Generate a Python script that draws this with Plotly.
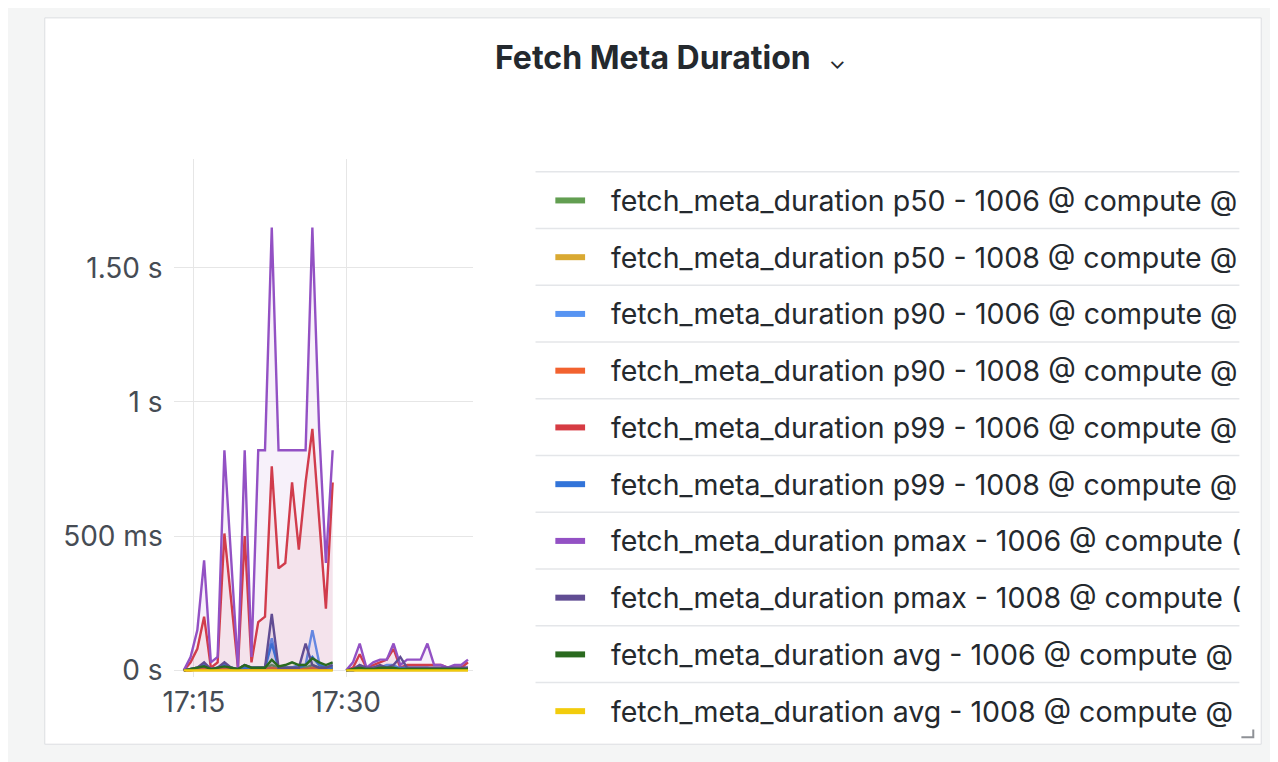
import plotly.graph_objects as go
import pandas as pd

W, H = 1278, 762
OFFX, OFFY = 9, 2  # observed page placement offset

times_a = pd.date_range("2024-01-01 17:14:00", periods=23, freq="40s")
times_b = pd.date_range("2024-01-01 17:30:00", periods=19, freq="40s")

series_names = [
    "fetch_meta_duration p50 - 1006 @ compute @",
    "fetch_meta_duration p50 - 1008 @ compute @",
    "fetch_meta_duration p90 - 1006 @ compute @",
    "fetch_meta_duration p90 - 1008 @ compute @",
    "fetch_meta_duration p99 - 1006 @ compute @",
    "fetch_meta_duration p99 - 1008 @ compute @",
    "fetch_meta_duration pmax - 1006 @ compute (",
    "fetch_meta_duration pmax - 1008 @ compute (",
    "fetch_meta_duration avg - 1006 @ compute @",
    "fetch_meta_duration avg - 1008 @ compute @",
]
colors = ["#629e51", "#d9a932", "#5794f2", "#f2622f", "#d63b43",
          "#3274d9", "#9351c4", "#614d93", "#2a6a1f", "#f2cc0c"]

p50_1006_a = [0,0,0.005,0.01,0.005,0.005,0.01,0.01,0.005,0.01,0.005,0.01,0.01,0.02,0.01,0.01,0.01,0.01,0.01,0.02,0.01,0.01,0.01]
p50_1006_b = [0,0,0.01,0.005,0.005,0.01,0.005,0.01,0.005,0.005,0.005,0.005,0.005,0.005,0.005,0.005,0.005,0.005,0.005]
p50_1008_a = [0]*23
p50_1008_b = [0]*19
p90_1006_a = [0,0.005,0.01,0.02,0.005,0.01,0.02,0.01,0.005,0.02,0.01,0.01,0.01,0.12,0.01,0.01,0.01,0.02,0.02,0.15,0.03,0.01,0.02]
p90_1006_b = [0,0,0.02,0.005,0.01,0.01,0.02,0.02,0.005,0.01,0.01,0.01,0.01,0.005,0.005,0.005,0.01,0.01,0.01]
p90_1008_a = [0,0,0.005,0.005,0.005,0.005,0.005,0.005,0.005,0.005,0.005,0.005,0.005,0.01,0.005,0.005,0.005,0.005,0.005,0.01,0.005,0.005,0.005]
p90_1008_b = [0,0,0.005,0.005,0.005,0.005,0.005,0.005,0.005,0.005,0.005,0.005,0.005,0.005,0.005,0.005,0.005,0.005,0.005]
p99_1006_a = [0,0.03,0.08,0.2,0.01,0.03,0.51,0.25,0.01,0.5,0.03,0.18,0.2,0.76,0.38,0.4,0.7,0.45,0.7,0.9,0.55,0.23,0.7]
p99_1006_b = [0,0.01,0.06,0.01,0.02,0.03,0.04,0.08,0.01,0.02,0.02,0.02,0.02,0.02,0.02,0.01,0.01,0.01,0.03]
p99_1008_a = [0,0.005,0.01,0.02,0.005,0.01,0.02,0.01,0.005,0.01,0.01,0.01,0.01,0.1,0.01,0.01,0.01,0.01,0.02,0.05,0.02,0.01,0.01]
p99_1008_b = [0,0,0.01,0.005,0.01,0.01,0.01,0.01,0.01,0.01,0.005,0.005,0.005,0.005,0.005,0.005,0.005,0.005,0.005]
pmax_1006_a = [0,0.05,0.15,0.41,0.03,0.05,0.82,0.4,0.01,0.82,0.05,0.82,0.82,1.65,0.82,0.82,0.82,0.82,0.82,1.65,0.9,0.4,0.82]
pmax_1006_b = [0,0.03,0.1,0.01,0.03,0.04,0.04,0.1,0.02,0.04,0.04,0.04,0.1,0.02,0.02,0.01,0.02,0.02,0.04]
pmax_1008_a = [0,0.005,0.01,0.03,0.005,0.01,0.03,0.01,0.005,0.02,0.01,0.01,0.01,0.21,0.01,0.01,0.01,0.01,0.1,0.02,0.01,0.01,0.02]
pmax_1008_b = [0,0.005,0.02,0.01,0.01,0.02,0.01,0.02,0.05,0.01,0.01,0.01,0.01,0.01,0.01,0.01,0.01,0.01,0.01]
avg_1006_a = [0,0.005,0.01,0.015,0.005,0.01,0.015,0.01,0.005,0.02,0.01,0.01,0.01,0.04,0.015,0.02,0.03,0.02,0.02,0.045,0.03,0.02,0.03]
avg_1006_b = [0,0.005,0.01,0.005,0.005,0.01,0.01,0.01,0.005,0.005,0.005,0.005,0.005,0.005,0.005,0.005,0.005,0.005,0.005]
avg_1008_a = [0]*23
avg_1008_b = [0]*19

values_a = [p50_1006_a, p50_1008_a, p90_1006_a, p90_1008_a, p99_1006_a,
            p99_1008_a, pmax_1006_a, pmax_1008_a, avg_1006_a, avg_1008_a]
values_b = [p50_1006_b, p50_1008_b, p90_1006_b, p90_1008_b, p99_1006_b,
            p99_1008_b, pmax_1006_b, pmax_1008_b, avg_1006_b, avg_1008_b]

ytick_vals = [0, 0.5, 1, 1.5]
ytick_text = ["0 s", "500 ms", "1 s", "1.50 s"]
xtick_vals = ["2024-01-01 17:15:00", "2024-01-01 17:30:00"]
xtick_text = ["17:15", "17:30"]


def rgba(hexc, a):
    h = hexc.lstrip("#")
    return "rgba(%d,%d,%d,%.2f)" % (int(h[0:2], 16), int(h[2:4], 16), int(h[4:6], 16), a)


def px(x):
    return (x - OFFX) / W


def py(y):
    return 1 - (y - OFFY) / H


fig = go.Figure()
for i, (name, c) in enumerate(zip(series_names, colors)):
    for xs, ys in ((times_a, values_a[i]), (times_b, values_b[i])):
        fig.add_trace(go.Scatter(x=list(xs), y=ys, mode="lines", name=name,
                                 line=dict(color=c, width=2.4),
                                 fill="tozeroy", fillcolor=rgba(c, 0.08),
                                 showlegend=False))

TF = "Inter, Roboto, sans-serif"
fig.update_layout(
    width=W, height=H, autosize=False,
    margin=dict(l=0, r=0, t=0, b=0),
    paper_bgcolor="#f4f5f5", plot_bgcolor="rgba(0,0,0,0)",
    font=dict(family=TF, color="#464c54"),
    xaxis=dict(domain=[px(165), px(467)], range=["2024-01-01 17:13:00", "2024-01-01 17:42:30"],
               tickvals=xtick_vals, ticktext=xtick_text, showgrid=True,
               gridcolor="#e6e6e6", zeroline=False, showline=False,
               tickfont=dict(size=28, color="#464c54"), ticks="", ticklabelstandoff=6),
    yaxis=dict(domain=[py(680), py(155)], range=[-0.025, 1.905],
               tickvals=ytick_vals, ticktext=ytick_text, showgrid=True,
               gridcolor="#e6e6e6", zeroline=False, showline=False,
               tickfont=dict(size=28, color="#464c54"), ticks="", ticklabelstandoff=10),
)

shapes = [dict(type="rect", xref="paper", yref="paper", x0=px(35), x1=px(1262),
               y0=py(748), y1=py(12), fillcolor="white",
               line=dict(color="#dcdee1", width=1), layer="below")]
annotations = [dict(text="<b>Fetch Meta Duration</b>  <span style='font-size:22px'>⌄</span>",
                    xref="paper", yref="paper", x=px(666), y=py(52),
                    showarrow=False, font=dict(size=32, color="#24292e", family=TF),
                    xanchor="center", yanchor="middle")]

row0, step = 197, 57.5
for i, (name, c) in enumerate(zip(series_names, colors)):
    yc = row0 + i * step
    sep = yc - 29
    shapes.append(dict(type="line", xref="paper", yref="paper", x0=px(530), x1=px(1240),
                       y0=py(sep), y1=py(sep), line=dict(color="#e4e6e9", width=1.5)))
    shapes.append(dict(type="line", xref="paper", yref="paper", x0=px(550), x1=px(580),
                       y0=py(yc), y1=py(yc), line=dict(color=c, width=6)))
    annotations.append(dict(text=name, xref="paper", yref="paper", x=px(604), y=py(yc),
                            showarrow=False, xanchor="left", yanchor="middle",
                            font=dict(size=28.5, color="#24292e", family=TF)))
shapes.append(dict(type="path", xref="paper", yref="paper",
                   path="M %f %f L %f %f L %f %f" % (px(1254), py(733), px(1254), py(741), px(1242), py(741)),
                   line=dict(color="#8e9196", width=2)))
fig.update_layout(shapes=shapes, annotations=annotations)
fig.write_html("out.html")
